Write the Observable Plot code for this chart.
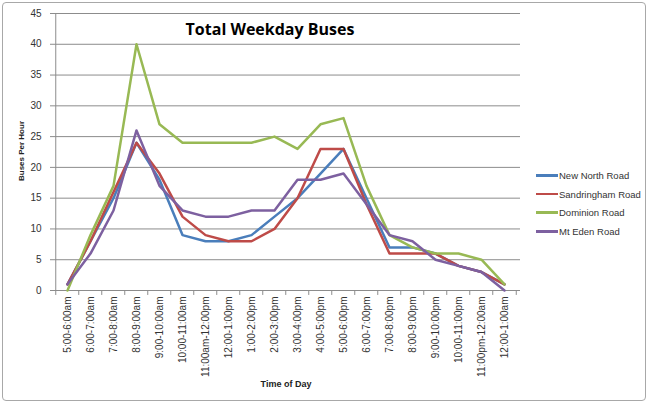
<!DOCTYPE html>
<html>
<head>
<meta charset="utf-8">
<script src="https://cdn.jsdelivr.net/npm/d3@7"></script>
<script src="https://cdn.jsdelivr.net/npm/@observablehq/plot@0.6"></script>
<style>
  body { margin: 0; background: #fff; }
  #wrap { position: relative; width: 650px; height: 405px; overflow: hidden; font-family: "Liberation Sans", Arial, sans-serif; }
  #border { position: absolute; left: 2px; top: 2px; width: 644px; height: 399px; border: 1px solid #a8a8a8; border-radius: 4px; box-sizing: border-box; pointer-events: none; }
  #title { position: absolute; left: 100px; width: 340px; top: 18px; text-align: center; font-weight: bold; font-size: 16px; color: #000; font-family: "Open Sans", "Liberation Sans", sans-serif; }
  #ylab { position: absolute; left: 21px; top: 151px; transform: translate(-50%, -50%) rotate(-90deg); font-weight: bold; font-size: 8px; color: #222; white-space: nowrap; }
  #xlab { position: absolute; left: 286px; top: 384px; transform: translate(-50%, -50%); font-weight: bold; font-size: 9px; color: #222; white-space: nowrap; }
  #legend { position: absolute; left: 536px; top: 166px; font-size: 9.5px; color: #333; }
  .item { display: flex; align-items: center; height: 18.7px; }
  .sw { width: 22px; height: 2.5px; margin-right: 1px; }
</style>
</head>
<body>
<div id="wrap">
  <div id="chart"></div>
  <div id="title">Total Weekday Buses</div>
  <div id="ylab">Buses Per Hour</div>
  <div id="xlab">Time of Day</div>
  <div id="legend"></div>
  <div id="border"></div>
</div>
<script>
const categories = ["5:00-6:00am","6:00-7:00am","7:00-8:00am","8:00-9:00am","9:00-10:00am","10:00-11:00am","11:00am-12:00pm","12:00-1:00pm","1:00-2:00pm","2:00-3:00pm","3:00-4:00pm","4:00-5:00pm","5:00-6:00pm","6:00-7:00pm","7:00-8:00pm","8:00-9:00pm","9:00-10:00pm","10:00-11:00pm","11:00pm-12:00am","12:00-1:00am"];
const seriesNames = ["New North Road","Sandringham Road","Dominion Road","Mt Eden Road"];
const newNorth    = [1, 8, 15, 24, 18, 9, 8, 8, 9, 12, 15, 19, 23, 15, 7, 7, 6, 4, 3, 1];
const sandringham = [1, 8, 16, 24, 19, 12, 9, 8, 8, 10, 15, 23, 23, 14, 6, 6, 6, 4, 3, 1];
const dominion    = [0, 9, 17, 40, 27, 24, 24, 24, 24, 25, 23, 27, 28, 17, 9, 7, 6, 6, 5, 1];
const mtEden      = [1, 6, 13, 26, 17, 13, 12, 12, 13, 13, 18, 18, 19, 14, 9, 8, 5, 4, 3, 0];
const colors = ["#4a7ebb", "#be4b48", "#98b954", "#7d60a0"];
const yTicks = [0, 5, 10, 15, 20, 25, 30, 35, 40, 45];

const allSeries = [newNorth, sandringham, dominion, mtEden];
const data = [];
seriesNames.forEach((s, i) => categories.forEach((c, j) => data.push({series: s, time: c, value: allSeries[i][j]})));

const W = 650, mL = 50, mR = 130;
const step = (W - mL - mR) / categories.length;

const chart = Plot.plot({
  width: 650,
  height: 405,
  marginLeft: mL,
  marginRight: mR,
  marginTop: 13,
  marginBottom: 115,
  style: { fontFamily: "Liberation Sans, Arial, sans-serif", fontSize: "10px", color: "#333", background: "transparent" },
  x: { type: "point", domain: categories, padding: 0.5, label: null },
  y: { domain: [0, 45], ticks: yTicks, label: null },
  color: { domain: seriesNames, range: colors },
  marks: [
    Plot.gridY(yTicks, { stroke: "#8c8c8c", strokeOpacity: 1, strokeWidth: 1 }),
    Plot.ruleX([categories[0]], { dx: -step / 2, stroke: "#8c8c8c" }),
    Plot.ruleX(categories, { dx: -step / 2, y1: 0, y2: -0.8, stroke: "#8c8c8c" }),
    Plot.ruleX([categories[categories.length - 1]], { dx: step / 2, y1: 0, y2: -0.8, stroke: "#8c8c8c" }),
    Plot.axisY(yTicks, { tickSize: 0, tickPadding: 9, fontSize: 10, fill: "#333" }),
    Plot.axisX({ tickSize: 0, tickPadding: 6, tickRotate: -90, fontSize: 10, fill: "#333" }),
    Plot.line(data, { x: "time", y: "value", stroke: "series", strokeWidth: 2.5, strokeLinejoin: "round" })
  ]
});
document.getElementById("chart").appendChild(chart);

const legend = document.getElementById("legend");
seriesNames.forEach((s, i) => {
  const it = document.createElement("div");
  it.className = "item";
  it.innerHTML = `<span class="sw" style="background:${colors[i]}"></span><span>${s}</span>`;
  legend.appendChild(it);
});
</script>
</body>
</html>
